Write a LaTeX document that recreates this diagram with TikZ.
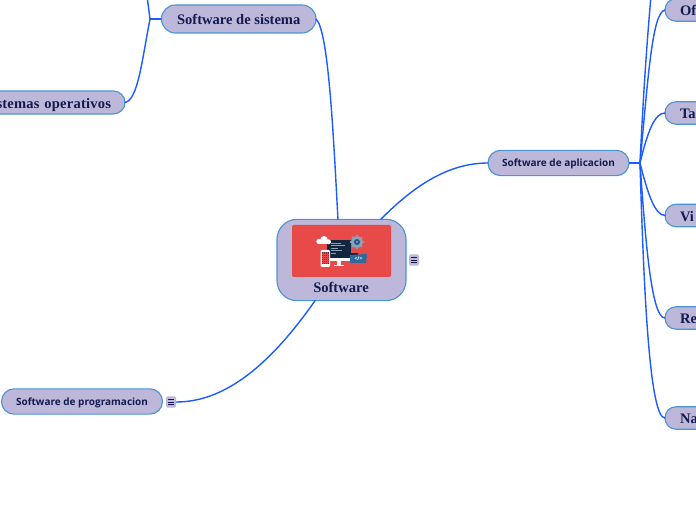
\documentclass[tikz,border=0pt]{standalone}
\usepackage{fontspec}
\setmainfont{Liberation Serif}
\newfontfamily\uisans{Open Sans}
\definecolor{boxfill}{HTML}{BDB8DA}
\definecolor{boxline}{HTML}{4A94D2}
\definecolor{wire}{HTML}{1A5CFF}
\definecolor{ink}{HTML}{141A4E}
\definecolor{redbg}{HTML}{E84A4A}
\definecolor{navy}{HTML}{12263F}
\definecolor{gearc}{HTML}{8BA3B8}
\definecolor{folderc}{HTML}{2E6B9C}
\tikzset{
  topic/.style={draw=boxline,fill=boxfill,line width=0.85pt,text=ink,inner sep=0pt,outer sep=0pt},
  serifb/.style={font=\bfseries\fontsize{10.9pt}{12pt}\selectfont,text height=8.6pt,text depth=0.3pt},
  sansb/.style={font=\uisans\bfseries\fontsize{7.5pt}{10pt}\selectfont,text height=7.5pt,text depth=1.5pt},
  wideb/.style={topic,serifb,rounded corners=10.5pt,minimum height=21pt},
  sideb/.style={topic,serifb,rounded corners=8.2pt,minimum height=16.8pt,minimum width=72pt,anchor=west,text width=60.75pt,align=left,inner xsep=11.25pt},
  sansbox/.style={topic,sansb,rounded corners=9.5pt,minimum height=19pt},
  link/.style={draw=wire,line width=1.05pt,line cap=round},
  stub/.style={draw=wire,line width=1.9pt},
  menubox/.style={fill=boxfill,rounded corners=1.2pt,minimum width=7.5pt,minimum height=8.6pt,inner sep=0pt},
  menubar/.style={draw=ink,line width=0.5pt},
}
\begin{document}
\begin{tikzpicture}[x=0.75pt,y=-0.75pt]
\useasboundingbox (0,0) rectangle (696,520);
\clip (0,0) rectangle (696,520);

% free ends and junctions
\coordinate (sysjoin) at (150,19);
\coordinate (sysup) at (147,-4);
\coordinate (appjoin) at (640,163);
\coordinate (appup) at (651,-4);

% nodes
\node[topic,rounded corners=15pt,minimum width=96.75pt,minimum height=61pt] (central) at (341.5,260) {};
\node[wideb,minimum width=115.9pt] (sis) at (238.75,19) {Software de sistema};
\node[wideb,minimum height=17.2pt,rounded corners=8.6pt,anchor=east,text width=130pt,align=right,inner xsep=10.5pt] (ope) at (125,102.5) {\addfontfeature{LetterSpace=1.5}Sistemas operativos};
\node[sansbox,minimum width=105.75pt] (app) at (558.5,163) {Software de aplicacion};
\node[sansbox,minimum width=120.75pt] (pro) at (82,401.5) {Software de programacion};
\node[sideb] (of) at (665,10) {Of};
\node[sideb] (ta) at (665,113) {Ta};
\node[sideb] (vi) at (665,215.5) {Vi};
\node[sideb] (re) at (665,318) {Re};
\node[sideb] (na) at (665,418) {Na};
\node[menubox] (m1) at (414,260) {};
\node[menubox] (m2) at (171,402) {};
\foreach \m in {m1,m2}{
  \draw[menubar] ([xshift=-2.2pt,yshift=2pt]\m.center) -- ([xshift=2.2pt,yshift=2pt]\m.center);
  \draw[menubar] ([xshift=-2.2pt]\m.center) -- ([xshift=2.2pt]\m.center);
  \draw[menubar] ([xshift=-2.2pt,yshift=-2pt]\m.center) -- ([xshift=2.2pt,yshift=-2pt]\m.center);
}

% picture inside the central topic
\node[fill=redbg,rounded corners=1pt,minimum width=74.25pt,minimum height=39pt,inner sep=0pt] (pic) at (341.5,251) {};
\node[text=ink,font=\bfseries\fontsize{10.9pt}{12pt}\selectfont,inner sep=0pt] (lab) at (341,287) {Software};
\fill[navy] (327,240) rectangle (351,258);
\foreach \yy/\xe in {243/341,245.5/345,248/338,250.5/342,253/336}{
  \draw[gearc,line width=0.35pt] (331,\yy) -- (\xe,\yy);
}
\fill[white] (327,258) rectangle (351,261);
\fill[white!85!gearc] (337,261) rectangle (341,265);
\fill[white] (334,265) rectangle (344,266.5);
\fill[white] (319,241.5) circle[radius=2.7] (324,239.7) circle[radius=3.7] (328.5,241.8) circle[radius=2.5];
\fill[white] (319,241) rectangle (328.5,244.3);
\fill[white,rounded corners=0.8pt] (320.5,250) rectangle (330,267);
\fill[navy!60!redbg] (322,252.5) rectangle (328.5,264);
\foreach \xx in {323.6,325.2,326.9}{\draw[redbg,line width=0.3pt] (\xx,252.5) -- (\xx,264);}
\foreach \yy in {254.5,256.5,258.5,260.5,262.5}{\draw[redbg,line width=0.3pt] (322,\yy) -- (328.5,\yy);}
\foreach \an in {0,45,...,315}{\fill[gearc] (357,242)++(\an:6.2) circle[radius=1.2];}
\fill[gearc] (357,242) circle[radius=5.8];
\fill[folderc!70!navy] (357,242) circle[radius=3];
\fill[gearc] (357,242) circle[radius=1.2];
\fill[navy] (350,253) rectangle (358,256);
\fill[folderc] (350,255) -- (367,254) -- (366,263) -- (350,263) -- cycle;
\node[text=white,font=\uisans\bfseries\fontsize{3.8pt}{4pt}\selectfont,inner sep=0pt] (codetag) at (358.5,259) {</>};

% connectors
\draw[link] (central.95) .. controls (333,125) and (328,30) .. (sis.east);
\draw[link] (central.46.8) .. controls (410,190) and (445,163) .. (app.west);
\draw[link] (central.237.6) .. controls (270,365) and (225,402) .. (m2.east);
\draw[stub] (sis.west) -- (sysjoin);
\draw[link] (ope.east) .. controls (138,100) and (142,60) .. (sysjoin);
\draw[link] (sysjoin) -- (sysup);
\draw[stub] (app.east) -- (appjoin);
\draw[link] (appjoin) .. controls (644,80) and (648,30) .. (appup);
\draw[link] (appjoin) .. controls (648,80) and (652,12) .. (of.west);
\draw[link] (appjoin) .. controls (648,130) and (655,113) .. (ta.west);
\draw[link] (appjoin) .. controls (648,195) and (655,215) .. (vi.west);
\draw[link] (appjoin) .. controls (646,250) and (652,318) .. (re.west);
\draw[link] (appjoin) .. controls (644,300) and (650,418) .. (na.west);
\end{tikzpicture}
\end{document}
